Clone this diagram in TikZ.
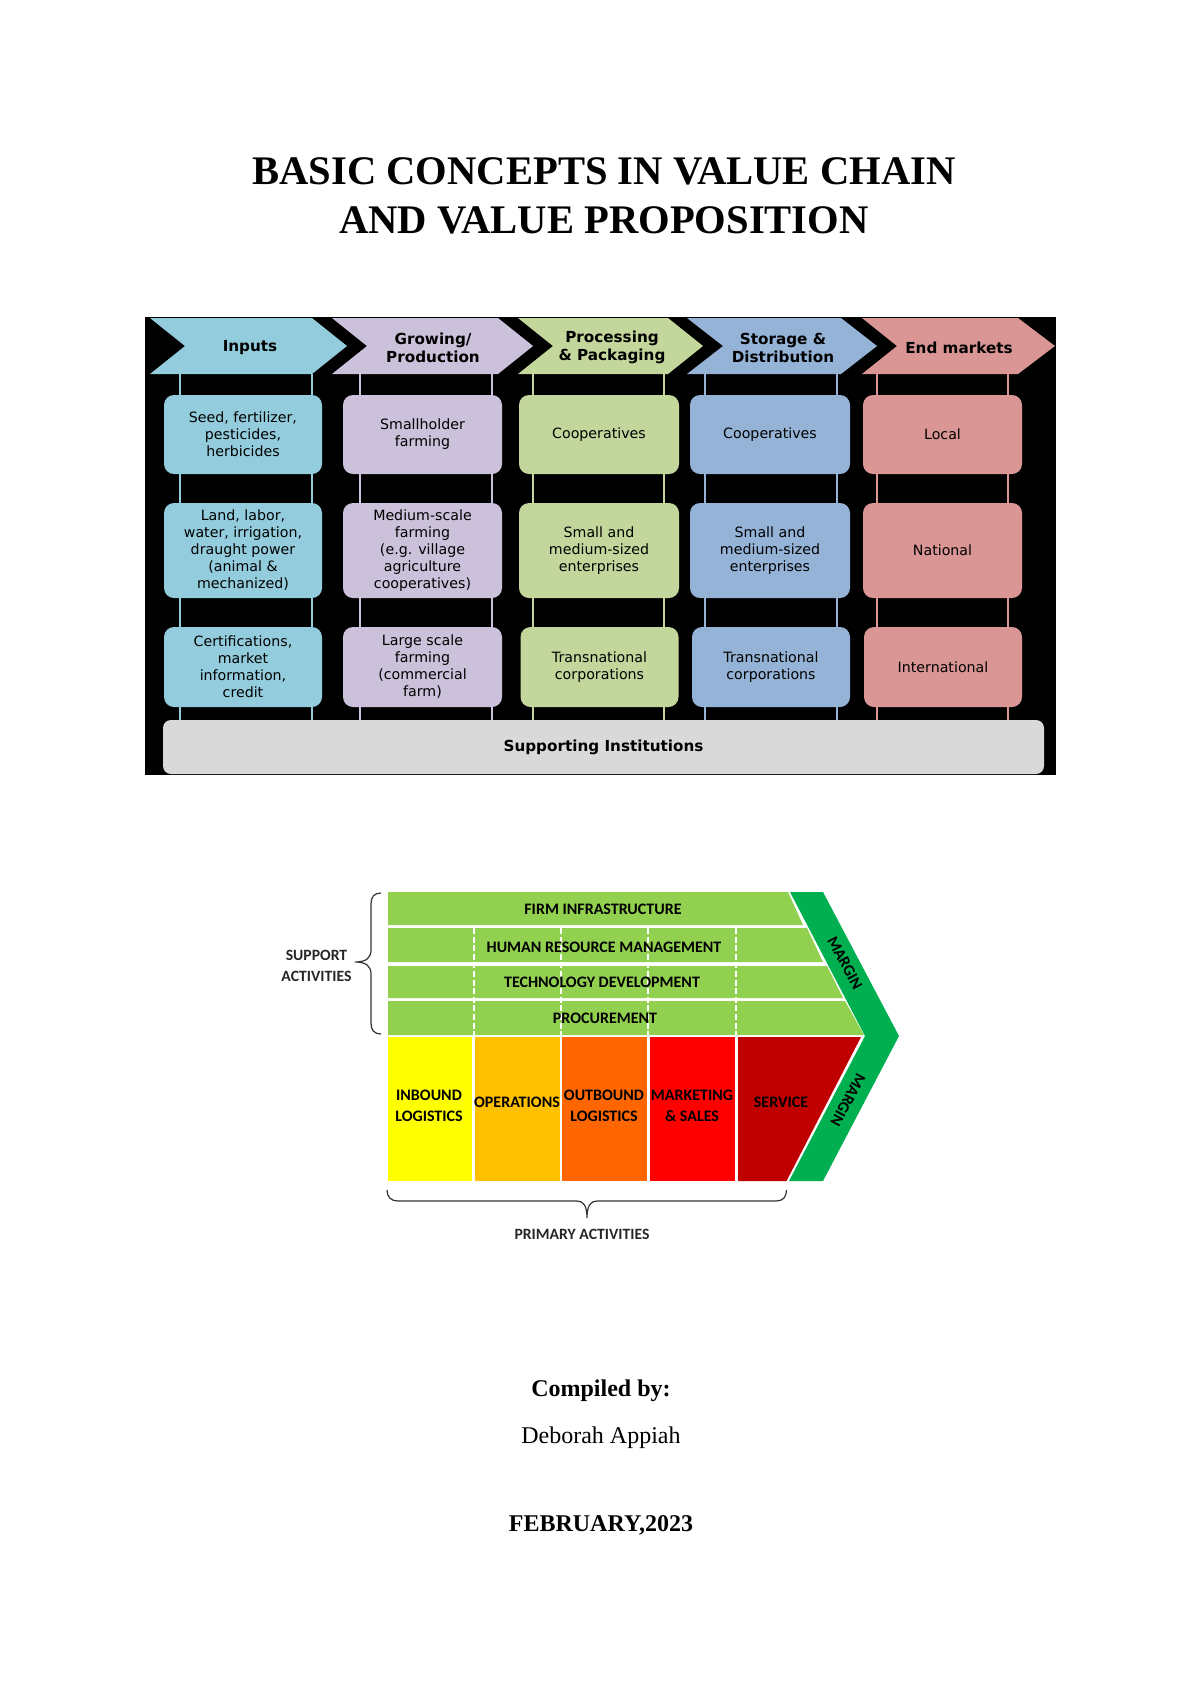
\documentclass[tikz,border=0pt]{standalone}
\usepackage{fontspec}
\setmainfont{Liberation Serif}
\newfontfamily\chainfont{DejaVu Sans}
\newfontfamily\portfont{Carlito}
\usetikzlibrary{calc}
\definecolor{cinput}{HTML}{93CDDD}
\definecolor{cgrow}{HTML}{CCC1DA}
\definecolor{cproc}{HTML}{C3D69B}
\definecolor{cstore}{HTML}{95B3D7}
\definecolor{cend}{HTML}{D99694}
\definecolor{csupp}{HTML}{D9D9D9}
\definecolor{cbar}{HTML}{92D050}
\definecolor{cmarg}{HTML}{00B050}
\definecolor{cinb}{HTML}{FFFF00}
\definecolor{coper}{HTML}{FFC000}
\definecolor{coutb}{HTML}{FF6600}
\definecolor{cmark}{HTML}{FF0000}
\definecolor{cserv}{HTML}{C00000}
\tikzset{
 headtxt/.style={font=\chainfont\bfseries\fontsize{7.6}{9}\selectfont, align=center, inner sep=0},
 boxtxt/.style={font=\chainfont\fontsize{7.1}{8.5}\selectfont, align=center, inner sep=0, rounded corners=5pt},
 bartxt/.style={font=\portfont\bfseries\fontsize{8}{10.5}\selectfont, align=center, inner sep=0},
 bracetxt/.style={font=\portfont\bfseries\fontsize{7.85}{10.5}\selectfont, align=center, inner sep=0, text=black!85},
 titletxt/.style={font=\bfseries\fontsize{20.3}{24.5}\selectfont, align=center, inner sep=0},
}
\begin{document}
\begin{tikzpicture}[x=.5pt, y=-.5pt]
\useasboundingbox (0,0) rectangle (1200,1698);
\node[titletxt] (title) at (604,196) {BASIC CONCEPTS IN VALUE CHAIN\\AND VALUE PROPOSITION};
\fill[black] (145,317) rectangle (1056,775);
\foreach \n/\xa/\xb/\xc/\xd/\la/\lb/\tx/\col/\txt in {
 1/150/185/312/347/180/312/250/cinput/{Inputs},
 2/332/367/498/533/360/492/433/cgrow/{Growing/\\Production},
 3/518/553/668/703/533/664/612/cproc/{Processing\\\& Packaging},
 4/687/723/841/877/705/837/783/cstore/{Storage \&\\Distribution},
 5/862/897/1018/1055/877/1008/959/cend/{End markets}} {
 \coordinate (top\n a) at (\la,374);
 \coordinate (top\n b) at (\lb,374);
 \coordinate (bot\n a) at (\la,720);
 \coordinate (bot\n b) at (\lb,720);
 \draw[\col, line width=1.1pt] (top\n a) -- (bot\n a);
 \draw[\col, line width=1.1pt] (top\n b) -- (bot\n b);
 \fill[\col] (\xa,318) -- (\xc,318) -- (\xd,346) -- (\xc,374) -- (\xa,374) -- (\xb,346) -- cycle;
 \node[headtxt] (head\n) at (\tx,347.5) {\txt};
}
\foreach \n/\x/\w/\y/\h/\col/\txt in {
 a1/243/158/434.5/79/cinput/{Seed, fertilizer,\\pesticides,\\herbicides},
 a2/243/158/550.5/95/cinput/{Land, labor,\\water, irrigation,\\draught power\\(animal \&\\mechanized)},
 a3/243/158/667/80/cinput/{Certifications,\\market\\information,\\credit},
 b1/422.5/159/434.5/79/cgrow/{Smallholder\\farming},
 b2/422.5/159/550.5/95/cgrow/{Medium-scale\\farming\\(e.g. village\\agriculture\\cooperatives)},
 b3/422.5/159/667/80/cgrow/{Large scale\\farming\\(commercial\\farm)},
 c1/599/160/434.5/79/cproc/{Cooperatives},
 c2/599/160/550.5/95/cproc/{Small and\\medium-sized\\enterprises},
 c3/599.5/158/667/80/cproc/{Transnational\\corporations},
 d1/770/160/434.5/79/cstore/{Cooperatives},
 d2/770/160/550.5/95/cstore/{Small and\\medium-sized\\enterprises},
 d3/771/158/667/80/cstore/{Transnational\\corporations},
 e1/942.5/159/434.5/79/cend/{Local},
 e2/942.5/159/550.5/95/cend/{National},
 e3/943/158/667/80/cend/{International}} {
 \node[boxtxt, fill=\col, minimum width=\w*.5pt, minimum height=\h*.5pt] (box\n) at (\x,\y) {\txt};
}
\node[headtxt, fill=csupp, rounded corners=4pt, minimum width=440.5pt, minimum height=27pt] (supp) at (603.5,747) {Supporting Institutions};
\fill[cmarg] (790,892) -- (823,892) -- (899,1036) -- (823,1181) -- (789,1181) -- (865,1036) -- cycle;
\foreach \n/\ya/\yb/\xa/\xb in {
 1/892/925/788/803,
 2/928/962/807/823,
 3/966/998/827/843,
 4/1001/1035/845/864} {
 \fill[cbar] (388,\ya) -- (\xa,\ya) -- (\xb,\yb) -- (388,\yb) -- cycle;
}
\foreach \x in {474,561,648,736} {
 \draw[white, line width=1.3pt, dash pattern=on 3pt off 1.3pt] (\x,928) -- (\x,1035);
}
\foreach \n/\y/\x/\txt in {
 1/909/603/FIRM INFRASTRUCTURE,
 2/947/604/HUMAN RESOURCE MANAGEMENT,
 3/982/602/TECHNOLOGY DEVELOPMENT,
 4/1018/605/PROCUREMENT} {
 \node[bartxt] (bar\n) at (\x,\y) {\txt};
}
\foreach \n/\xa/\xb/\xc/\col/\x/\y/\txt in {
 1/388/472/472/cinb/429/1105.5/{INBOUND\\LOGISTICS},
 2/475/559.5/559.5/coper/517/1102/{OPERATIONS},
 3/562/647/647/coutb/604/1105.5/{OUTBOUND\\LOGISTICS},
 4/650/735/735/cmark/692/1105.5/{MARKETING\\\& SALES},
 5/738/861/786.5/cserv/781/1102/{SERVICE}} {
 \fill[\col] (\xa,1037) -- (\xb,1037) -- (\xc,1181) -- (\xa,1181) -- cycle;
 \node[bartxt] (prim\n) at (\x,\y) {\txt};
}
\node[bartxt, rotate=-62] (margin1) at (845,963) {MARGIN};
\node[bartxt, rotate=-118] (margin2) at (848,1100) {MARGIN};
\node[bracetxt] (support) at (316.5,966) {SUPPORT\\ACTIVITIES};
\node[bracetxt] (primary) at (582,1234) {PRIMARY ACTIVITIES};
\draw[black!80, line width=.6pt] (381,893) .. controls (374,893) and (371,897) .. (371,904) -- (371,950)
 .. controls (371,958) and (366,962) .. (355,962) .. controls (366,962) and (371,966) .. (371,974) -- (371,1023)
 .. controls (371,1030) and (374,1034) .. (381,1034);
\draw[black!80, line width=.6pt] (387,1190) .. controls (387,1197) and (391,1201) .. (398,1201) -- (577,1201)
 .. controls (583,1201) and (587,1205) .. (587,1218) .. controls (587,1205) and (591,1201) .. (597,1201) -- (776,1201)
 .. controls (783,1201) and (786.5,1197) .. (786.5,1190);
\node[font=\bfseries\fontsize{12}{14}\selectfont, inner sep=0] (compiled) at (601,1391) {Compiled by:};
\node[font=\fontsize{12}{14}\selectfont, inner sep=0] (name) at (601,1438) {Deborah Appiah};
\node[font=\bfseries\fontsize{12}{14}\selectfont, inner sep=0] (date) at (601,1525) {FEBRUARY,2023};
\end{tikzpicture}
\end{document}
